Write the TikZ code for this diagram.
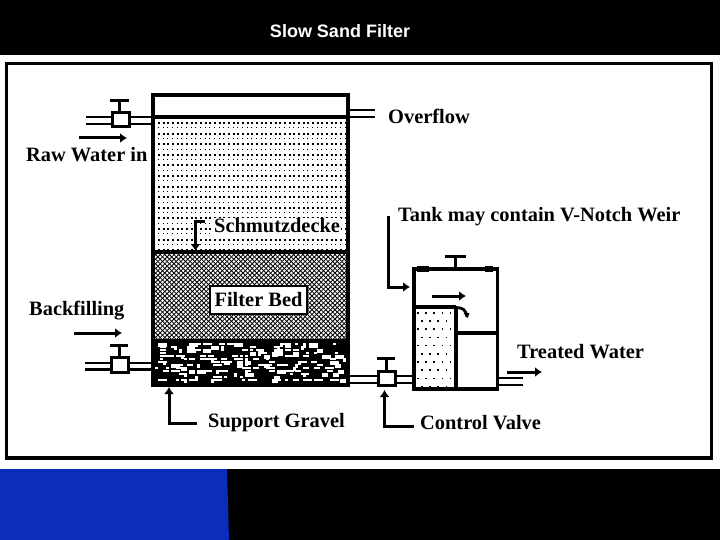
\documentclass[tikz,border=0pt]{standalone}
\usepackage{fontspec}
\setmainfont{Liberation Serif}
\newfontfamily\titlefont{Liberation Sans}
\usetikzlibrary{arrows.meta}
\definecolor{slideblue}{HTML}{0A2DBC}
\tikzset{
  x=1pt,y=-1pt,
  thick line/.style={draw=black,line width=3pt},
  tank line/.style={draw=black,line width=3.2pt},
  pipe line/.style={draw=black,line width=2.6pt},
  arrow line/.style={draw=black,line width=3pt,-{Latex[length=7pt,width=10pt]}},
  valve box/.style={draw=black,fill=white,line width=3pt,minimum width=16pt,minimum height=13.5pt,inner sep=0pt},
  label text/.style={inner sep=0pt,anchor=west,font=\bfseries\fontsize{20.4}{21}\selectfont,text=black},
  label halo/.style={label text,fill=white,inner sep=1pt}
}
\begin{document}
\begin{tikzpicture}
\useasboundingbox (0,0) rectangle (720,540);
\fill[black] (0,0) rectangle (720,540);
\fill[white] (0,55) rectangle (720,469);
\fill[slideblue] (0,469) -- (227,469) -- (229,540) -- (0,540) -- cycle;
\node[text=white,font=\titlefont\bfseries\fontsize{18}{19}\selectfont] (title) at (340,31.5) {Slow Sand Filter};
\draw[line width=3.4pt] (6.5,63.5) rectangle (711.5,458);

% water dots
\foreach \r in {0,...,24}{
  \foreach \c in {0,...,40}{
    \pgfmathsetmacro{\s}{mod(\r,2)==0?1.7:1.1}
    \pgfmathsetmacro{\dx}{round(158+4.67*\c)}
    \pgfmathsetmacro{\dy}{round(122+5.3*\r)}
    \fill[black] (\dx,\dy) rectangle ++(\s,\s);
  }
}
% filter bed hatch
\begin{scope}
\clip (153,252) rectangle (348,340);
\foreach \k in {-20,...,42}{
  \draw[black,line width=0.8pt] ({153+4.6*\k},252) -- ({153+4.6*\k+88},340);
  \draw[black,line width=0.8pt] ({153+4.6*\k+88},252) -- ({153+4.6*\k},340);
}
\end{scope}
% gravel
\fill[black] (153,340) rectangle (348,385);
\pgfmathsetseed{41}
\begin{scope}
\clip (155,342) rectangle (346,383);
\foreach \i in {1,...,215}{
  \pgfmathsetmacro{\px}{round(155+int(73*rnd)*2.65)}
  \pgfmathsetmacro{\py}{343+int(13*rnd)*3}
  \pgfmathsetmacro{\pw}{3*(1+int(2.4*rnd))}
  \pgfmathsetmacro{\ph}{2+int(1.4*rnd)*2}
  \fill[white] (\px,\py) rectangle ++(\pw,\ph);
}
\end{scope}
% main tank
\draw[tank line] (153,95) rectangle (348,385);
\draw[tank line] (153,117) -- (348,117);
\draw[tank line] (153,252) -- (348,252);
\draw[tank line] (153,340.5) -- (348,340.5);

% inlet valve
\coordinate (inA) at (86,117); \coordinate (inB) at (86,124);
\coordinate (inAe) at (153,117); \coordinate (inBe) at (153,124);
\draw[pipe line] (inA) -- (inAe); \draw[pipe line] (inB) -- (inBe);
\node[valve box,minimum width=17pt] (v1) at (120.5,119.5) {};
\coordinate (v1t) at (119.5,100.5);
\draw[thick line] (v1.north -| v1t) -- (v1t);
\draw[thick line] (110,100.5) -- (128.5,100.5);
\coordinate (a1s) at (79,138); \coordinate (a1e) at (127,138);
\draw[arrow line] (a1s) -- (a1e);
\node[label text] (raw) at (26,154.5) {Raw Water in};

% overflow
\draw[pipe line] (348,110) -- (375,110);
\draw[pipe line] (348,117) -- (375,117);
\node[label text] (over) at (388,116) {Overflow};

% Schmutzdecke
\node[label halo] (sch) at (213,226) {Schmutzdecke};
\coordinate (s0) at (204.5,222); \coordinate (s1) at (195.5,222); \coordinate (s2) at (195.5,251);
\draw[arrow line] (s0) -- (s1) -- (s2);

% filter bed label
\node[draw=black,fill=white,line width=2.8pt,font=\bfseries\fontsize{20.4}{21}\selectfont,minimum width=97pt,minimum height=28pt,inner sep=0pt] (bed) at (258.5,300) {Filter Bed};

% backfill
\node[label text] (back) at (29,311) {Backfilling};
\coordinate (b1s) at (74,333); \coordinate (b1e) at (122,333);
\draw[arrow line] (b1s) -- (b1e);
\draw[pipe line] (85,363) -- (153,363);
\draw[pipe line] (85,369.5) -- (153,369.5);
\node[valve box,minimum width=17pt,minimum height=15pt] (v2) at (119.5,365) {};
\coordinate (v2t) at (119,345);
\draw[thick line] (v2.north -| v2t) -- (v2t);
\draw[thick line] (110,345) -- (128,345);

% support gravel
\node[label text] (grav) at (208,422.5) {Support Gravel};
\coordinate (g0) at (197,423.5); \coordinate (g1) at (169,423.5); \coordinate (g2) at (169,387);
\draw[arrow line] (g0) -- (g1) -- (g2);

% outlet line
\draw[pipe line] (348,376) -- (414,376);
\draw[pipe line] (348,383) -- (414,383);
\node[valve box,minimum width=17pt,minimum height=14pt] (v3) at (386.5,378) {};
\coordinate (v3t) at (386,358.5);
\draw[thick line] (v3.north -| v3t) -- (v3t);
\draw[thick line] (377,358.5) -- (395,358.5);

% small tank dots
\begin{scope}
\clip (415,309) rectangle (455,388);
\foreach \r in {0,...,9}{
  \foreach \c in {0,...,5}{
    \pgfmathsetmacro{\off}{mod(\r,2)*4}
    \fill[black] ({417+8.2*\c+\off},{312+8.2*\r}) rectangle ++(1.5,1.5);
  }
}
\end{scope}
\draw[tank line] (414,389) -- (414,269) -- (497.5,269) -- (497.5,389) -- cycle;
\draw[tank line] (456,389) -- (456,307);
\draw[tank line] (414,307) -- (456,307);
\draw[tank line] (456,333) -- (497.5,333);
\fill[black] (417,266) rectangle (429,272);
\fill[black] (485,266) rectangle (493,272);
\draw[line width=2.8pt] (456,307.5) .. controls (463,307.5) and (466,310) .. (467,317);
\fill[black] (463.5,313) -- (469.5,313) -- (467.5,318) -- cycle;
\coordinate (lid) at (455.5,268); \coordinate (lidt) at (455.5,256.5);
\draw[thick line] (lid) -- (lidt);
\draw[thick line] (445,256.5) -- (466,256.5);
\coordinate (t1) at (432,296); \coordinate (t2) at (466,296);
\draw[arrow line] (t1) -- (t2);

% weir label
\node[label text] (weir) at (398,216.5) {Tank may contain V-Notch Weir};
\coordinate (w0) at (388,216); \coordinate (w1) at (388,287); \coordinate (w2) at (410,287);
\draw[arrow line] (w0) -- (w1) -- (w2);

% treated water
\node[label text] (treat) at (517,352) {Treated Water};
\coordinate (o1) at (507,372); \coordinate (o2) at (542,372);
\draw[arrow line] (o1) -- (o2);
\draw[pipe line] (498,378) -- (523,378);
\draw[pipe line] (498,385) -- (523,385);

% control valve
\node[label text] (ctrl) at (420,422.5) {Control Valve};
\coordinate (c0) at (414,426.5); \coordinate (c1) at (384.5,426.5); \coordinate (c2) at (384.5,390);
\draw[arrow line] (c0) -- (c1) -- (c2);
\end{tikzpicture}
\end{document}
